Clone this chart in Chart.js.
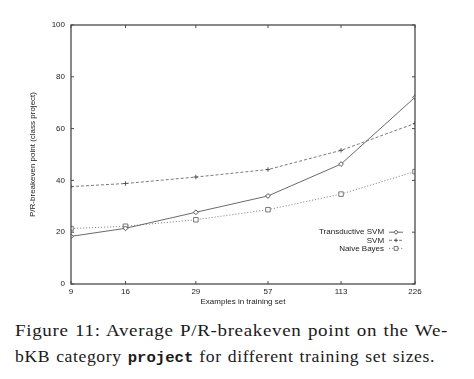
<!DOCTYPE html>
<html>
<head>
<meta charset="utf-8">
<script src="https://cdn.jsdelivr.net/npm/chart.js@4.4.0/dist/chart.umd.min.js"></script>
<style>
  html, body { margin: 0; padding: 0; background: #fff; }
  #wrap { position: relative; width: 474px; height: 379px; overflow: hidden; }
  #chartBox { position: absolute; left: 0; top: 0; width: 474px; height: 310px; }
  .cap { position: absolute; left: 15px; font-family: "Liberation Serif", "Times New Roman", serif; font-size: 17.5px; color: #1a1a1a; white-space: nowrap; line-height: 1; transform-origin: 0 0; letter-spacing: 0.6px; word-spacing: 1px; }
  .tt { font-family: "Liberation Mono", "DejaVu Sans Mono", monospace; font-size: 15.5px; font-weight: bold; letter-spacing: 0; }
</style>
</head>
<body>
<div id="wrap">
  <div id="chartBox"><canvas id="c" width="474" height="310"></canvas></div>
  <div class="cap" id="cap1" style="top:322px">Figure 11: Average P/R-breakeven point on the We-</div>
  <div class="cap" id="cap2" style="top:348px">bKB category <span class="tt">project</span> for different training set sizes.</div>
</div>
<script>
// ---- data ----
const xValues = [9, 15, 29, 57, 113, 226];          // position of each point on the log axis
const xTickLabels = ['9', '16', '29', '57', '113', '226'];
const yTickValues = [0, 20, 40, 60, 80, 100];
const seriesNames = ['Transductive SVM', 'SVM', 'Naive Bayes'];
const transductiveSVM = [18.4, 21.5, 27.7, 34.0, 46.3, 72.1];
const svm = [37.6, 38.8, 41.3, 44.2, 51.6, 62.0];
const naiveBayes = [21.4, 22.3, 24.8, 28.7, 34.7, 43.4];

const FONT = { family: 'Liberation Sans, Arial, sans-serif', size: 8 };
const TXT = '#222';
const FRAME = '#4a4a4a';

function pts(ys) { return xValues.map((x, i) => ({ x: x, y: ys[i] })); }

const datasets = [
  { label: seriesNames[0], data: pts(transductiveSVM), borderColor: '#6a6a6a', borderWidth: 1,
    pointStyle: 'rectRot', pointRadius: 2.4, pointBorderColor: '#555', pointBackgroundColor: '#fff', pointBorderWidth: 1 },
  { label: seriesNames[1], data: pts(svm), borderColor: '#7a7a7a', borderWidth: 1, borderDash: [3, 2],
    pointStyle: 'cross', pointRadius: 2.2, pointBorderColor: '#555', pointBorderWidth: 1 },
  { label: seriesNames[2], data: pts(naiveBayes), borderColor: '#8c8c8c', borderWidth: 1, borderDash: [1.2, 1.8],
    pointStyle: 'rect', pointRadius: 3.2, pointBorderColor: '#777', pointBackgroundColor: '#fff', pointBorderWidth: 1 }
];

const framePlugin = {
  id: 'frameTicks',
  afterDraw(chart) {
    const ctx = chart.ctx, a = chart.chartArea;
    const xs = chart.scales.x, ys = chart.scales.y;
    ctx.save();
    ctx.strokeStyle = FRAME; ctx.lineWidth = 1.3; ctx.setLineDash([]);
    ctx.strokeRect(a.left, a.top, a.right - a.left, a.bottom - a.top);
    ctx.lineWidth = 1;
    const L = 3;
    ctx.beginPath();
    xValues.forEach(v => {
      const px = xs.getPixelForValue(v);
      ctx.moveTo(px, a.bottom); ctx.lineTo(px, a.bottom - L);
      ctx.moveTo(px, a.top); ctx.lineTo(px, a.top + L);
    });
    yTickValues.forEach(v => {
      const py = ys.getPixelForValue(v);
      ctx.moveTo(a.left, py); ctx.lineTo(a.left + L, py);
      ctx.moveTo(a.right, py); ctx.lineTo(a.right - L, py);
    });
    ctx.stroke();

    // legend (gnuplot style: right aligned text, sample on the right)
    const textRight = a.left + (a.right - a.left) * 0.91;
    const sx0 = textRight + 5, sx1 = textRight + 19;
    const rowTop = ys.getPixelForValue(20);
    ctx.font = FONT.size + 'px ' + FONT.family;
    ctx.textAlign = 'right'; ctx.textBaseline = 'middle';
    chart.data.datasets.forEach((ds, i) => {
      const y = rowTop + i * 8.1;
      ctx.fillStyle = TXT;
      ctx.fillText(ds.label, textRight, y);
      ctx.strokeStyle = ds.borderColor; ctx.lineWidth = 1;
      ctx.setLineDash(ds.borderDash || []);
      ctx.beginPath(); ctx.moveTo(sx0, y); ctx.lineTo(sx1, y); ctx.stroke();
      ctx.setLineDash([]);
      ctx.strokeStyle = ds.pointBorderColor; ctx.fillStyle = ds.pointBackgroundColor || '#fff';
      Chart.helpers.drawPoint(ctx, { pointStyle: ds.pointStyle, radius: ds.pointRadius * 0.85, borderWidth: 1, rotation: 0 }, (sx0 + sx1) / 2, y);
    });
    ctx.restore();
  }
};

new Chart(document.getElementById('c'), {
  type: 'line',
  data: { datasets: datasets },
  options: {
    responsive: false,
    animation: false,
    layout: { padding: { left: 0, right: 59, top: 25, bottom: 3 } },
    plugins: { legend: { display: false }, tooltip: { enabled: false } },
    elements: { line: { tension: 0 } },
    scales: {
      x: {
        type: 'logarithmic', min: 9, max: 226,
        afterBuildTicks(s) { s.ticks = xValues.map(v => ({ value: v })); },
        ticks: { callback: (v, i) => xTickLabels[i], font: FONT, color: TXT, padding: 3, maxRotation: 0, autoSkip: false },
        grid: { display: false, drawTicks: false },
        border: { display: false },
        title: { display: true, text: 'Examples in training set', font: FONT, color: TXT, padding: { top: 0, bottom: 0 } },
        afterFit(s) { s.height = 23; }
      },
      y: {
        type: 'linear', min: 0, max: 100,
        afterBuildTicks(s) { s.ticks = yTickValues.map(v => ({ value: v })); },
        ticks: { font: FONT, color: TXT, padding: 6 },
        grid: { display: false, drawTicks: false },
        border: { display: false },
        title: { display: true, text: 'P/R-breakeven point (class project)', font: FONT, color: TXT, padding: { top: 28, bottom: 0 } },
        afterFit(s) { s.width = 71; }
      }
    }
  },
  plugins: [framePlugin]
});

// stretch caption lines to the widths measured in the reference
function fit(id, target) {
  const el = document.getElementById(id);
  const w = el.getBoundingClientRect().width;
  el.style.transform = 'scaleX(' + (target / w).toFixed(4) + ')';
}
fit('cap1', 433);
fit('cap2', 420);
</script>
</body>
</html>
